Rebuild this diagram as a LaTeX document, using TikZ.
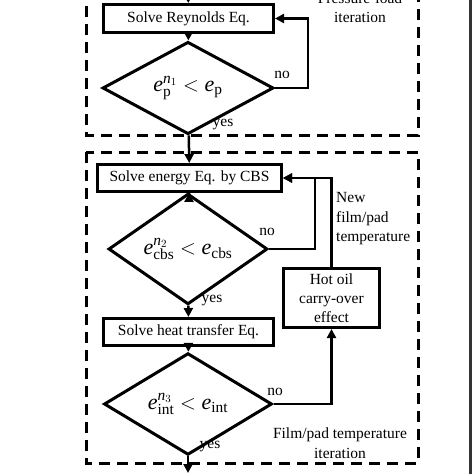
\documentclass[tikz,border=0pt]{standalone}
\usepackage{fontspec}
\setmainfont{Liberation Serif}
\usetikzlibrary{shapes.geometric,arrows.meta}
\tikzset{
  solvebox/.style={draw,line width=3pt,inner sep=0pt,align=center,
    font=\fontsize{15.5}{19}\selectfont},
  testbox/.style={draw,diamond,line width=3pt,inner sep=0pt,
    font=\fontsize{22}{26}\selectfont},
  flow/.style={line width=2.5pt,-{Triangle[length=9pt,width=9pt]}},
  loopbox/.style={line width=3pt,dash pattern=on 11pt off 7pt},
  tag/.style={inner sep=0pt,font=\fontsize{15.5}{19.5}\selectfont},
}

\begin{document}
\begin{tikzpicture}[x=1pt,y=-1pt]
		\useasboundingbox (0,0) rectangle (474,474);
		\clip (0,0) rectangle (474,474);
		\fill[white] (0,0) rectangle (474,474);
		%the two iteration loops
		\draw [loopbox] (86,-30) rectangle (418,135);
		\draw [loopbox] (86,152) rectangle (418,463);
		\draw [line width=3pt,black!80] (470,-5) -- (470,480);
		%pressure-load loop
		\coordinate (in) at (188,-20);
		\node [solvebox,minimum width=170pt,minimum height=28pt] (rey) at (188.5,18.5) {Solve Reynolds Eq.};
		\node [testbox,minimum width=171pt,minimum height=64pt] (ep) at (188,88) {$\mathit{e}^{\mathit{n}_1}_{\mathrm{p}} < \mathit{e}_{\mathrm{p}}$};
		\draw [flow] (in) -- (rey);
		\draw [flow] (rey) -- (ep);
		\draw [flow] (ep.east) -- (308,88) |- (rey.east);
		\node [tag] (no1) at (282,75) {no};
		\node [tag] (yes1) at (223,125) {yes};
		\node [tag,align=center] (pl) at (360,7.5) {Pressure-load\\iteration};
		%film/pad temperature loop
		\node [solvebox,minimum width=184pt,minimum height=27pt] (cbs) at (189.5,178) {Solve energy Eq. by CBS};
		\node [testbox,minimum width=159pt,minimum height=72pt] (ec) at (188,249) {$\mathit{e}^{\mathit{n}_2}_{\mathrm{cbs}} < \mathit{e}_{\mathrm{cbs}}$};
		\node [solvebox,minimum width=170pt,minimum height=27pt] (heat) at (188.5,332) {Solve heat transfer Eq.};
		\node [testbox,minimum width=168pt,minimum height=65pt] (ei) at (188,404) {$\mathit{e}^{\mathit{n}_3}_{\mathrm{int}} < \mathit{e}_{\mathrm{int}}$};
		\node [solvebox,minimum width=96pt,minimum height=59pt] (hot) at (331.5,298) {Hot oil\\carry-over\\effect};
		\coordinate (out) at (188,473);
		\draw [flow] (ep) -- (cbs);
		\draw [flow] (cbs) -- (ec);
		\draw [flow] (ec) -- (heat);
		\draw [flow] (heat) -- (ei);
		\draw [flow] (ei) -- (out);
		\draw [flow] (ec.east) -- (315,249) |- (cbs.east);
		\draw [flow] (hot.north) |- (cbs.east);
		\draw [flow] (ei.east) -| (hot.south);
		\node [tag] (no2) at (267,232) {no};
		\node [tag] (yes2) at (212,301) {yes};
		\node [tag] (no3) at (275,392) {no};
		\node [tag] (yes3) at (210,447) {yes};
		\node [tag,align=left,anchor=west] (new) at (336,219) {New\\film/pad\\temperature};
		\node [tag,align=center] (fp) at (340,443) {Film/pad temperature\\iteration};
\end{tikzpicture}
\end{document}
